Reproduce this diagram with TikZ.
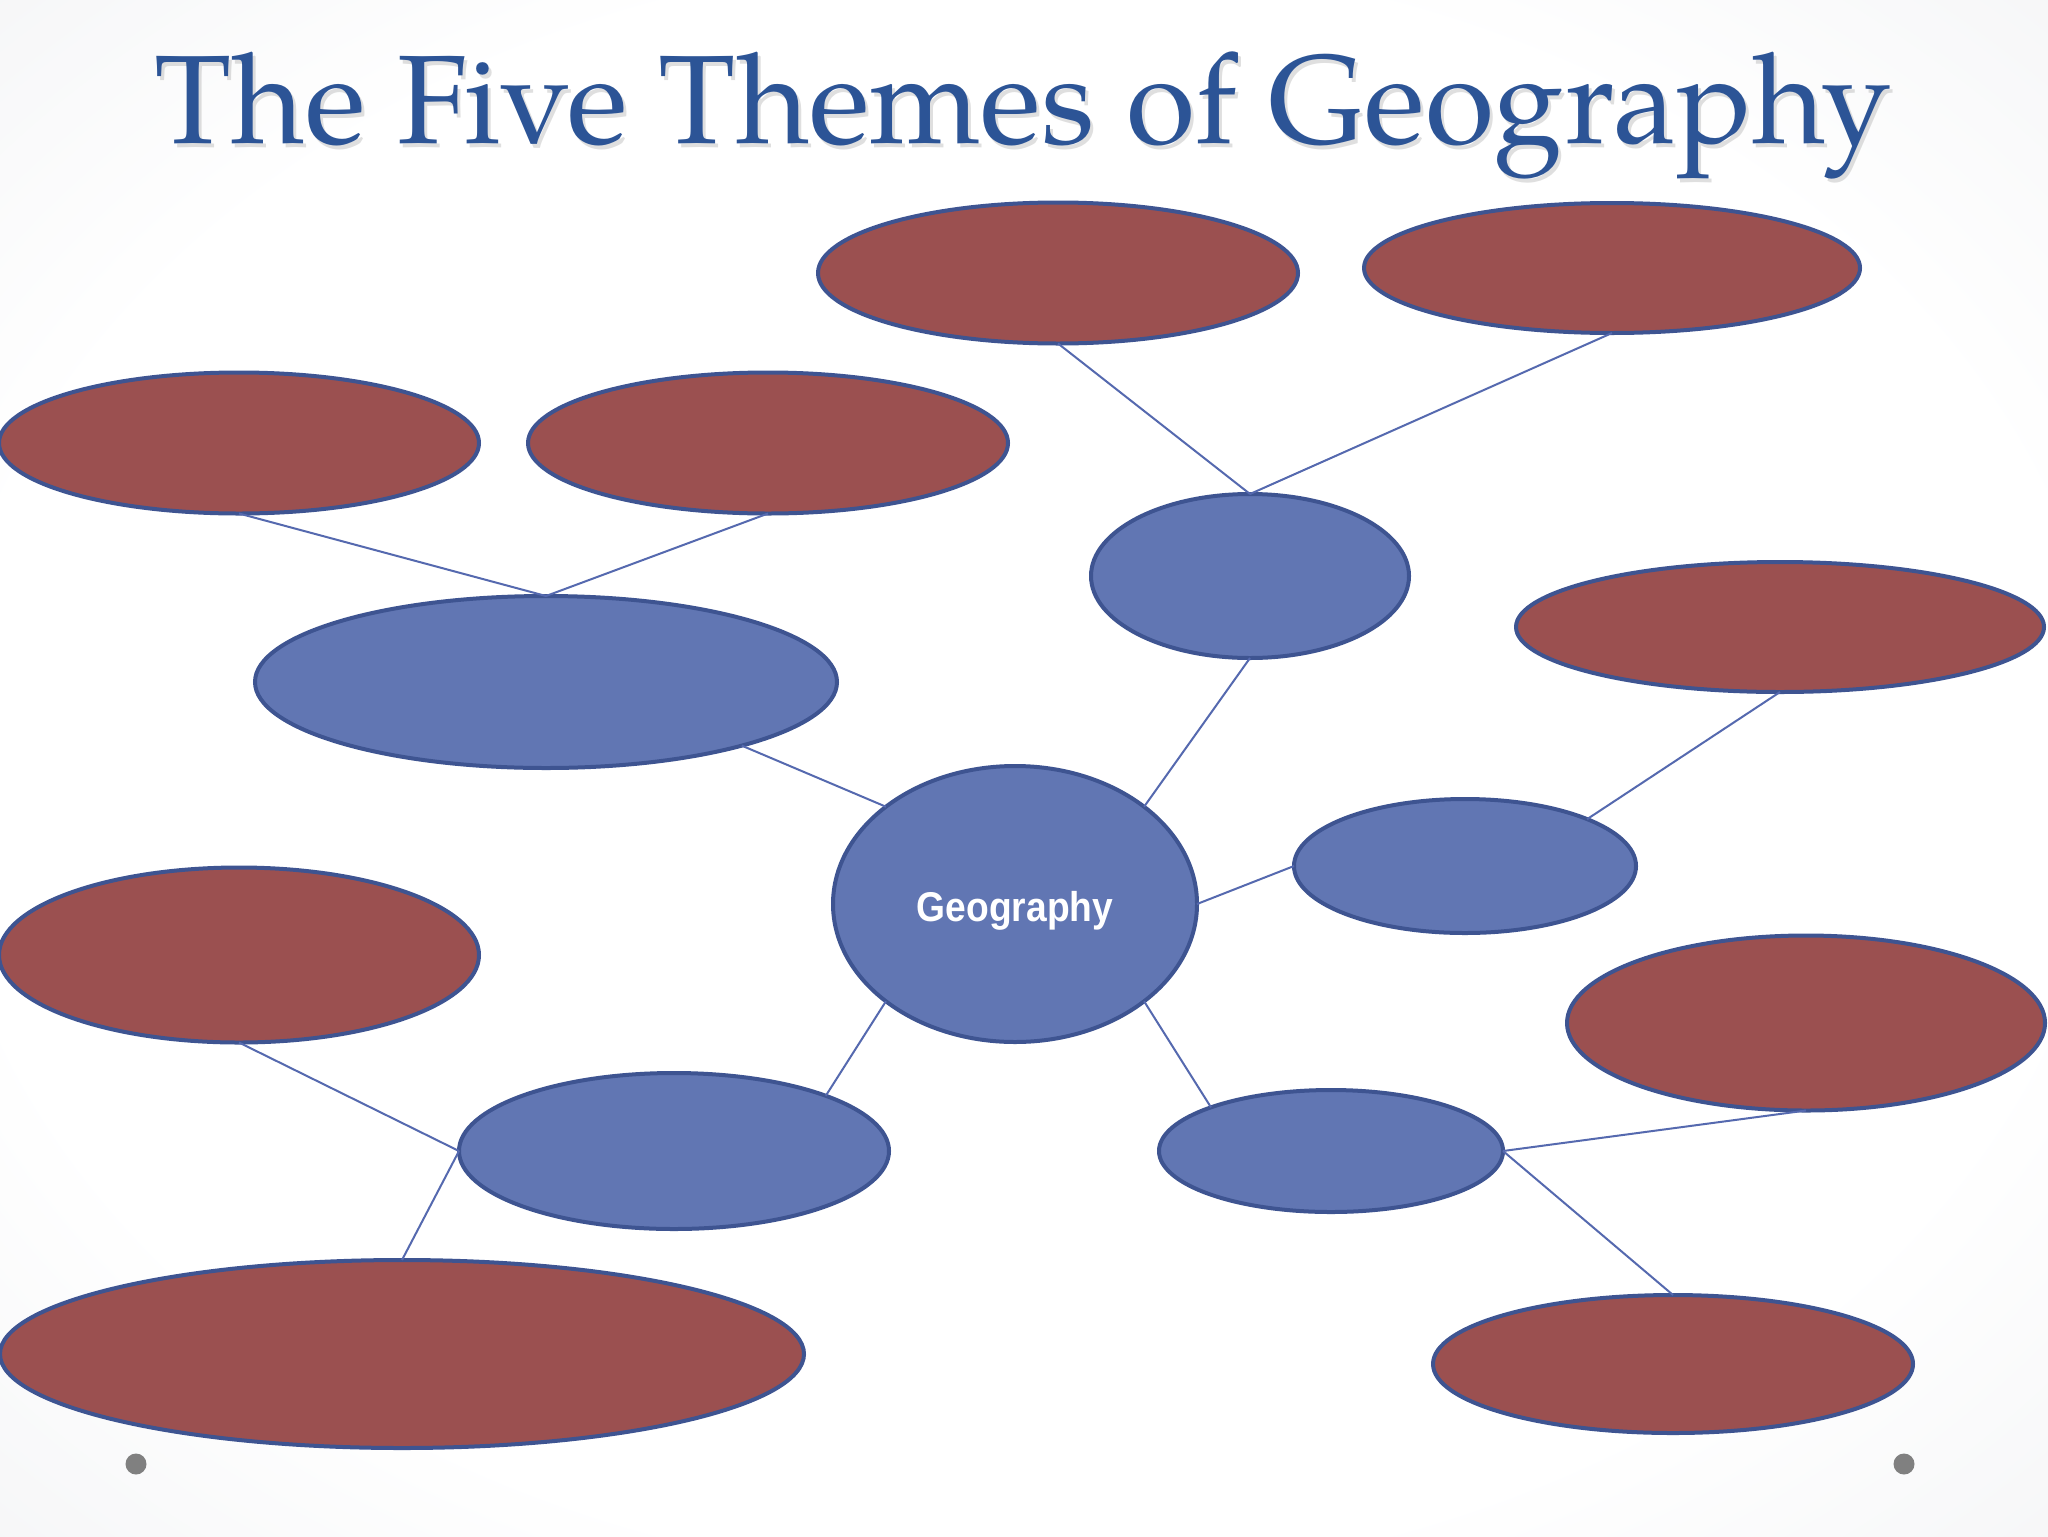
\documentclass[tikz,border=0pt]{standalone}
\usepackage{fontspec}
\setmainfont{TeX Gyre Pagella}
\newfontfamily\geofont{Liberation Sans}
\usetikzlibrary{shapes.geometric}
\definecolor{redfill}{RGB}{155,80,80}
\definecolor{bluefill}{RGB}{97,118,179}
\definecolor{edgeblue}{RGB}{62,84,145}
\definecolor{linkblue}{RGB}{85,105,175}
\definecolor{titleblue}{RGB}{44,84,150}
\definecolor{bggray}{RGB}{214,215,219}
\definecolor{bgmid}{RGB}{233,234,237}
\definecolor{dotgray}{RGB}{128,128,128}
\pgfdeclareradialshading{slidebg}{\pgfpoint{0bp}{0bp}}{color(0bp)=(white); color(26bp)=(white); color(50bp)=(bgmid); color(71bp)=(bggray)}
\begin{document}
\begin{tikzpicture}[x=0.5pt,y=-0.5pt,
  bub/.style={ellipse, draw=edgeblue, line width=2pt, inner sep=0pt, outer sep=0pt},
  redbub/.style={bub, fill=redfill},
  bluebub/.style={bub, fill=bluefill},
  link/.style={draw=linkblue, line width=1pt},
  dotmark/.style={circle, fill=dotgray, minimum size=10.5pt, inner sep=0pt},
  titletext/.style={anchor=base, font=\fontsize{63}{70}\selectfont}]
\useasboundingbox (0,0) rectangle (2048,1536);
\shade[shading=slidebg] (0,0) rectangle (2048,1536);
% title
\node[titletext, text=gray, opacity=0.25] (titleshadow) at (1026,148) {The Five Themes of Geography};
\node[titletext, text=titleblue] (title) at (1023,143) {The Five Themes of Geography};
% bubbles
\node[redbub, minimum width=240pt, minimum height=70.5pt] (r1) at (1058,273) {};
\node[redbub, minimum width=248pt, minimum height=65pt] (r2) at (1612,268) {};
\node[redbub, minimum width=240pt, minimum height=70.5pt] (r3) at (239,443) {};
\node[redbub, minimum width=240pt, minimum height=70.5pt] (r4) at (768,443) {};
\node[bluebub, minimum width=159pt, minimum height=82pt] (b5) at (1250,576) {};
\node[redbub, minimum width=264pt, minimum height=65pt] (r6) at (1780,627) {};
\node[bluebub, minimum width=291pt, minimum height=86pt] (b7) at (546,682) {};
\node[bluebub, minimum width=182pt, minimum height=138pt, text=white, font=\geofont\bfseries\fontsize{20}{22}\selectfont] (geo) at (1015,904) {\raisebox{-3.3pt}[\height][\depth]{\scalebox{0.93}[1.04]{Geography}}};
\node[bluebub, minimum width=171pt, minimum height=67pt] (b9) at (1465,866) {};
\node[redbub, minimum width=240pt, minimum height=87.5pt] (r10) at (239,955) {};
\node[redbub, minimum width=239pt, minimum height=87.5pt] (r11) at (1806,1023) {};
\node[bluebub, minimum width=215pt, minimum height=78pt] (b12) at (674,1151) {};
\node[bluebub, minimum width=172pt, minimum height=61pt] (b13) at (1331,1151) {};
\node[redbub, minimum width=402pt, minimum height=94pt] (r14) at (402,1354) {};
\node[redbub, minimum width=240pt, minimum height=69pt] (r15) at (1673,1364) {};
% connectors
\draw[link] (r1.south) -- (b5.north);
\draw[link] (r2.south) -- (b5.north);
\draw[link] (r3.south) -- (b7.north);
\draw[link] (r4.south) -- (b7.north);
\draw[link] (b7.342) -- (geo.143);
\draw[link] (b5.south) -- (geo.37);
\draw[link] (geo.east) -- (b9.west);
\draw[link] (b9.21) -- (r6.south);
\draw[link] (geo.217) -- (b12.20);
\draw[link] (r10.south) -- (b12.west);
\draw[link] (b12.west) -- (r14.north);
\draw[link] (geo.323) -- (b13.160);
\draw[link] (b13.east) -- (r11.south);
\draw[link] (b13.east) -- (r15.north);
% corner dots
\node[dotmark] (dotL) at (136,1464) {};
\node[dotmark] (dotR) at (1904,1464) {};
\end{tikzpicture}
\end{document}
